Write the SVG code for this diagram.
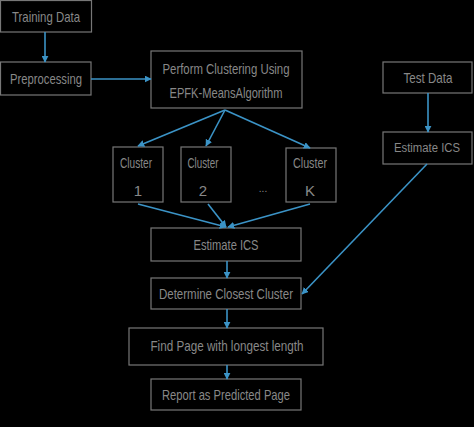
<svg xmlns="http://www.w3.org/2000/svg" width="474" height="427" viewBox="0 0 474 427">
<defs>
<marker id="ah" viewBox="0 0 10 10" refX="9" refY="5" markerWidth="7" markerHeight="7" markerUnits="userSpaceOnUse" orient="auto">
<path d="M0,0 L10,5 L0,10 z" fill="#3b93c6"/>
</marker>
<style>
.box{fill:none;stroke:#777;stroke-width:1.2}
.t{font-family:"Liberation Sans",Arial,sans-serif;font-size:14.5px;fill:#888;text-anchor:middle;dominant-baseline:central}
.d{font-size:15px}
.c{stroke:#3b93c6;stroke-width:1.6;fill:none;marker-end:url(#ah)}
</style>
</defs>
<rect width="474" height="427" fill="#000"/>
<g id="training-data"><rect class="box" x="0.5" y="0.5" width="91" height="31.5"/><text class="t" x="46" y="17" textLength="68" lengthAdjust="spacingAndGlyphs">Training Data</text></g>
<g id="preprocessing"><rect class="box" x="0.5" y="62" width="90.5" height="33"/><text class="t" x="46" y="79" textLength="72" lengthAdjust="spacingAndGlyphs">Preprocessing</text></g>
<g id="perform-clustering"><rect class="box" x="151" y="51" width="151" height="57"/><text class="t" x="226" y="69" textLength="127" lengthAdjust="spacingAndGlyphs">Perform Clustering Using</text><text class="t" x="226" y="93" textLength="113" lengthAdjust="spacingAndGlyphs">EPFK-MeansAlgorithm</text></g>
<g id="cluster-1"><rect class="box" x="113" y="147" width="50" height="55"/><text class="t" x="136" y="163" textLength="32" lengthAdjust="spacingAndGlyphs">Cluster</text><text class="t d" x="138" y="190">1</text></g>
<g id="cluster-2"><rect class="box" x="181" y="147" width="50" height="55"/><text class="t" x="203" y="163" textLength="31" lengthAdjust="spacingAndGlyphs">Cluster</text><text class="t d" x="203" y="190">2</text></g>
<g id="ellipsis"><text class="t" x="263" y="188" style="font-size:10px">...</text></g>
<g id="cluster-k"><rect class="box" x="286" y="148" width="50" height="54"/><text class="t" x="310" y="163" textLength="34" lengthAdjust="spacingAndGlyphs">Cluster</text><text class="t d" x="310" y="190">K</text></g>
<g id="test-data"><rect class="box" x="383" y="62" width="89" height="31"/><text class="t" x="428" y="78" textLength="49" lengthAdjust="spacingAndGlyphs">Test Data</text></g>
<g id="estimate-ics-test"><rect class="box" x="383" y="132" width="89" height="32"/><text class="t" x="427" y="148" style="font-size:12.5px" textLength="66" lengthAdjust="spacingAndGlyphs">Estimate ICS</text></g>
<g id="estimate-ics"><rect class="box" x="151" y="228" width="150" height="33"/><text class="t" x="226" y="245" textLength="65" lengthAdjust="spacingAndGlyphs">Estimate ICS</text></g>
<g id="determine-closest"><rect class="box" x="151" y="278" width="150" height="31"/><text class="t" x="226" y="294" textLength="134" lengthAdjust="spacingAndGlyphs">Determine Closest Cluster</text></g>
<g id="find-page"><rect class="box" x="129" y="328" width="194" height="37"/><text class="t" x="227" y="346" textLength="153" lengthAdjust="spacingAndGlyphs">Find Page with longest length</text></g>
<g id="report"><rect class="box" x="151" y="379" width="150" height="31"/><text class="t" x="226" y="395" textLength="128" lengthAdjust="spacingAndGlyphs">Report as Predicted Page</text></g>
<g id="connectors">
<line class="c" x1="45" y1="32" x2="45" y2="62"/>
<line class="c" x1="91" y1="79" x2="151" y2="79"/>
<line class="c" x1="225" y1="110" x2="138" y2="146"/>
<line class="c" x1="225" y1="110" x2="206" y2="146"/>
<line class="c" x1="225" y1="110" x2="310" y2="148"/>
<line class="c" x1="138" y1="204" x2="226" y2="227"/>
<line class="c" x1="208" y1="204" x2="226" y2="227"/>
<line class="c" x1="310" y1="204" x2="228" y2="227"/>
<line class="c" x1="428" y1="93" x2="428" y2="132"/>
<line class="c" x1="427" y1="164" x2="302" y2="294"/>
<line class="c" x1="227" y1="261" x2="227" y2="278"/>
<line class="c" x1="227" y1="309" x2="227" y2="328"/>
<line class="c" x1="227" y1="365" x2="227" y2="379"/>
</g>
</svg>
